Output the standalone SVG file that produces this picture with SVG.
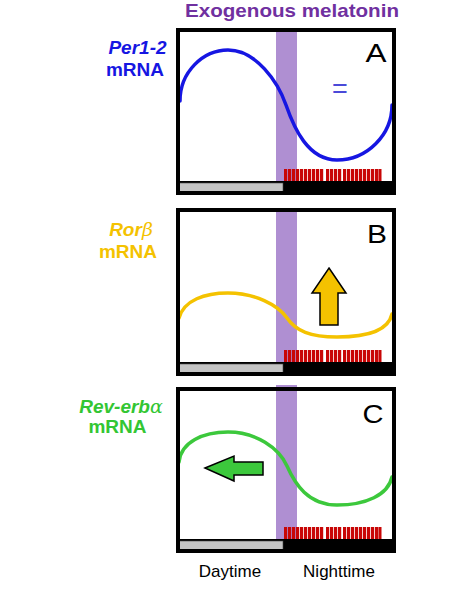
<svg xmlns="http://www.w3.org/2000/svg" xmlns:xlink="http://www.w3.org/1999/xlink" width="474" height="590" viewBox="0 0 474 590">
<style>
.lbl{font-family:"Liberation Sans",Arial,sans-serif;font-weight:bold;font-size:19px;text-anchor:middle}
.it{font-style:italic}
.greek{font-style:italic;font-weight:normal;font-family:"DejaVu Serif","Liberation Serif",serif}
.letter{font-family:"Liberation Sans",Arial,sans-serif;font-size:25px;text-anchor:middle;fill:#000}
.axis{font-family:"Liberation Sans",Arial,sans-serif;font-size:17px;text-anchor:middle;fill:#000}
.frame{fill:none;stroke:#000;stroke-width:4}
.bg{fill:#fff}
.mel{fill:#af8fd2}
.band{fill:#000}
.day{fill:#c4c4c4;stroke:#444;stroke-width:0.6}
.curve{fill:none;stroke-width:3.5;stroke-linecap:round}
.arrow{stroke:#000;stroke-width:1.5;stroke-linejoin:miter}
</style>
<defs>
<g id="bars" fill="#c80606">
<rect x="284" y="0" width="3.2" height="12"/>
<rect x="288" y="0" width="3.2" height="12"/>
<rect x="292" y="0" width="3.2" height="12"/>
<rect x="296" y="0" width="3.2" height="12"/>
<rect x="300" y="0" width="3.2" height="12"/>
<rect x="304" y="0" width="3.2" height="12"/>
<rect x="308" y="0" width="3.2" height="12"/>
<rect x="312" y="0" width="3.2" height="12"/>
<rect x="316" y="0" width="3.2" height="12"/>
<rect x="320" y="0" width="3.2" height="12"/>
<rect x="326" y="0" width="3.2" height="12"/>
<rect x="330" y="0" width="3.2" height="12"/>
<rect x="334" y="0" width="3.2" height="12"/>
<rect x="338" y="0" width="3.2" height="12"/>
<rect x="343" y="0" width="3.2" height="12"/>
<rect x="347" y="0" width="3.2" height="12"/>
<rect x="351" y="0" width="3.2" height="12"/>
<rect x="355" y="0" width="3.2" height="12"/>
<rect x="359" y="0" width="3.2" height="12"/>
<rect x="363" y="0" width="3.2" height="12"/>
<rect x="367" y="0" width="3.2" height="12"/>
<rect x="371" y="0" width="3.2" height="12"/>
<rect x="375" y="0" width="3.2" height="12"/>
<rect x="378.5" y="0" width="3" height="12"/>
</g>
</defs>
<rect width="474" height="590" fill="#fff"/>
<g id="title">
<text x="292" y="17" class="lbl" fill="#7030a0" textLength="214" lengthAdjust="spacingAndGlyphs">Exogenous melatonin</text>
</g>
<g id="panelA">
<rect class="bg" x="178" y="30" width="216" height="163"/>
<rect class="mel" x="276" y="30" width="21" height="151"/>
<path class="curve" stroke="#1616e2" d="M180,101 C180,72 203,50 228,50 C256,50 278,82 286,105 C294,128 308,160 337,160 C367,160 392,135 392,105"/>
<text x="340" y="98" font-family="Liberation Sans,Arial,sans-serif" font-size="27" text-anchor="middle" fill="#4a4ad8">=</text>
<rect class="band" x="176" y="181" width="220" height="14"/>
<rect class="day" x="179" y="183" width="104" height="9"/>
<use xlink:href="#bars" y="169"/>
<rect class="frame" x="178" y="30" width="216" height="163"/>
<text class="letter" x="376" y="62" textLength="21" lengthAdjust="spacingAndGlyphs">A</text>
<text class="lbl" fill="#1616e2"><tspan x="137.5" y="54" class="it">Per1-2</tspan><tspan x="135" y="76">mRNA</tspan></text>
</g>
<g id="panelB">
<rect class="bg" x="178" y="210" width="216" height="164"/>
<rect class="mel" x="276" y="210" width="21" height="152"/>
<path class="curve" stroke="#f4c200" d="M179,318 C184,300 205,293 228,293 C255,293 278,305 287,318 C296,331 310,337 337,337 C365,337 388,332 392,314"/>
<polygon class="arrow" fill="#f4c200" points="329,268 346,293 338,293 338,325 320,325 320,293 312,293"/>
<rect class="band" x="176" y="362" width="220" height="14"/>
<rect class="day" x="179" y="364" width="104" height="9"/>
<use xlink:href="#bars" y="350"/>
<rect class="frame" x="178" y="210" width="216" height="164"/>
<text class="letter" x="377" y="243" textLength="20" lengthAdjust="spacingAndGlyphs">B</text>
<text class="lbl" fill="#f4c200"><tspan x="131" y="236"><tspan class="it">Ror</tspan><tspan class="greek">β</tspan></tspan><tspan x="128" y="258">mRNA</tspan></text>
</g>
<g id="panelC">
<rect class="bg" x="178" y="389" width="216" height="162"/>
<rect class="mel" x="276" y="385" width="21" height="154"/>
<path class="curve" stroke="#3cc83c" d="M179,462 C181,442 203,432 228,432 C256,432 279,448 287,466 C295,484 308,505 337,505 C366,505 388,495 392,477"/>
<polygon class="arrow" fill="#3cc83c" points="205,468 234,456 234,462 263,462 263,475 234,475 234,481"/>
<rect class="band" x="176" y="539" width="220" height="14"/>
<rect class="day" x="179" y="541" width="104" height="9"/>
<use xlink:href="#bars" y="527"/>
<rect class="frame" x="178" y="389" width="216" height="162"/>
<text class="letter" x="373" y="423" textLength="21" lengthAdjust="spacingAndGlyphs">C</text>
<text class="lbl" fill="#33c633"><tspan x="121" y="413"><tspan class="it">Rev-erb</tspan><tspan class="greek">α</tspan></tspan><tspan x="117.5" y="433">mRNA</tspan></text>
</g>
<g id="axis">
<text class="axis" x="230" y="577">Daytime</text>
<text class="axis" x="339" y="577">Nighttime</text>
</g>
<g id="connectors"></g>
</svg>
